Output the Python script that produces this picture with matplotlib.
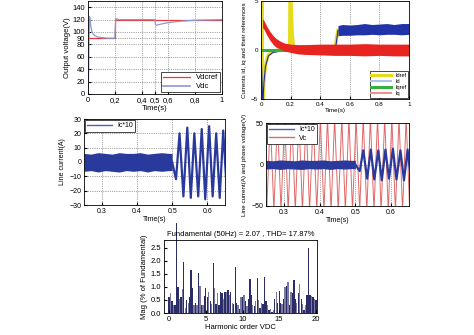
import numpy as np
import matplotlib
matplotlib.use('Agg')
import matplotlib.pyplot as plt
from matplotlib.lines import Line2D

# ---- data ----
# top left: output voltage
t_vdcref = [0, 0.2, 0.2, 1.0]
vdcref = [90, 90, 120, 120]
t_vdc = [0, 0.004, 0.008, 0.012, 0.016, 0.022, 0.03, 0.045, 0.07, 0.1, 0.15, 0.2,
         0.203, 0.208, 0.215, 0.23, 0.3, 0.5, 0.503, 0.51, 0.53, 0.56, 0.6, 0.65,
         0.7, 0.8, 0.9, 1.0]
vdc = [0, 30, 95, 125, 118, 108, 100, 95, 92, 91, 90, 90,
       105, 122, 121, 120, 120, 120, 112, 111, 112, 113.5, 115, 116.5,
       117.5, 119, 119.5, 120]

# top right: currents id, iq and references
t_idref = [0.002, 0.006, 0.01, 0.014, 0.019, 0.025, 0.035, 0.05, 0.08, 0.12, 0.193, 0.197,
           0.205, 0.212, 0.22, 0.25, 0.5, 0.51, 0.52]
idref = [-8, 8, -8, -5.2, -3.4, -2.2, -1.2, -0.5, -0.15, 0, 0, 8,
         4, 1.5, 0.3, 0, 0, 1.2, 2]
t_id = [0, 0.011, 0.014, 0.02, 0.03, 0.05, 0.08, 0.12, 0.2, 0.5, 0.505, 0.52]
id_ = [0, -5, -5, -3.3, -1.7, -0.6, -0.25, -0.15, -0.1, 0, 0.3, 2]
t_id_band = [0.52, 0.55, 0.6, 0.65, 0.7, 0.75, 0.8, 0.85, 0.9, 0.95, 1.0]
id_hi = [2.5, 2.6, 2.55, 2.6, 2.7, 2.6, 2.65, 2.7, 2.6, 2.7, 2.7]
id_lo = [1.45, 1.5, 1.5, 1.55, 1.55, 1.6, 1.55, 1.6, 1.6, 1.55, 1.6]
t_iqref = [0.003, 1.0]
iqref = [0, 0]
t_iq = [0.01, 0.02, 0.04, 0.06, 0.08, 0.1, 0.13, 0.16, 0.2, 0.25, 0.3, 0.4,
        0.5, 0.6, 0.7, 0.8, 0.9, 1.0]
iq_hi = [3.2, 3.0, 2.4, 1.9, 1.5, 1.2, 0.9, 0.7, 0.6, 0.55, 0.55, 0.6,
         0.6, 0.6, 0.65, 0.6, 0.6, 0.6]
iq_lo = [2.3, 2.1, 1.5, 1.0, 0.6, 0.3, 0.1, -0.1, -0.25, -0.4, -0.45, -0.5,
         -0.55, -0.55, -0.6, -0.55, -0.6, -0.6]

# middle left: line current Ic*10
t_noise = [0.25, 0.27, 0.29, 0.31, 0.33, 0.35, 0.37, 0.39, 0.41, 0.43, 0.45, 0.47, 0.49, 0.5]
ic_hi = [6, 5.5, 6.5, 6, 5.5, 6.5, 6, 6, 6.5, 5.5, 6, 6.5, 6, 6]
ic_lo = [-6.5, -6, -7, -6, -6.5, -7, -6, -6.5, -6, -7, -6, -6.5, -6, -6]
t_ic = [0.5, 0.511, 0.521, 0.532, 0.543, 0.553, 0.563, 0.574, 0.584, 0.594,
        0.605, 0.615, 0.625, 0.635, 0.645, 0.655]
ic = [0, -12, 20, -24, 24, -25, 20, -24, 23, -26, 25, -24, 20, -25, 22, -20]

# middle right: Ic*10 and phase voltage Vc
ic2_hi = [5, 4.5, 5.5, 5, 4.5, 5.5, 5, 5, 5.5, 4.5, 5, 5.5, 5, 5]
ic2_lo = [-5.5, -5, -6, -5, -5.5, -6, -5, -5.5, -5, -6, -5, -5.5, -5, -5]
t_ic2 = [0.5, 0.512, 0.522, 0.533, 0.543, 0.553, 0.564, 0.574, 0.584, 0.594,
         0.605, 0.615, 0.626, 0.636, 0.646, 0.655]
ic2 = [0, -8, 17, -17, 18, -18, 17, -19, 18, -17, 19, -18, 17, -19, 18, -16]
t_vc = [0.25, 0.252, 0.262, 0.272, 0.282, 0.292, 0.302, 0.312, 0.322, 0.332, 0.342,
        0.352, 0.362, 0.372, 0.382, 0.392, 0.402, 0.412, 0.422, 0.432, 0.442,
        0.452, 0.462, 0.472, 0.482, 0.492, 0.502, 0.512, 0.522, 0.532, 0.542,
        0.552, 0.562, 0.572, 0.582, 0.592, 0.602, 0.612, 0.622, 0.632, 0.642,
        0.652]
vc = [-45, -56, 56, -56, 56, -56, 56, -56, 56, -56, 56,
      -56, 56, -56, 56, -56, 56, -56, 56, -56, 56,
      -56, 56, -56, 56, -56, 56, -56, 56, -56, 56,
      -56, 56, -56, 56, -56, 56, -56, 56, -56, 56,
      -56]

# bottom: harmonic spectrum of VDC (0 to 20, step 0.2)
harm = [round(0.2 * i, 1) for i in range(101)]
mag = [0.62, 0.78, 0.45, 0.3, 0.3, 3.45,
       1.0, 0.55, 0.6, 0.92, 1.95,
       0.2, 0.5, 0.4, 0.6, 1.65,
       0.95, 0.3, 0.38, 0.3, 1.55,
       1.05, 0.3, 0.3, 0.65, 0.95,
       0.6, 0.8, 0.45, 0.35, 1.93,
       0.95, 0.35, 0.75, 0.3, 0.8,
       0.75, 0.55, 0.8, 0.82, 0.9,
       0.7, 0.8, 0.4, 0.35, 1.75,
       0.4, 0.3, 0.15, 0.62, 0.62,
       0.68, 0.45, 0.25, 0.55, 1.3,
       0.7, 0.3, 0.25, 0.45, 1.33,
       0.5, 0.2, 0.4, 0.35, 1.4,
       0.45, 0.3, 0.1, 0.15, 0.05,
       0.1, 0.55, 0.8, 0.4, 0.85,
       0.4, 0.35, 0.55, 1.0, 1.05,
       1.2, 0.3, 0.8, 0.78, 1.25,
       0.55, 0.4, 0.75, 1.1, 0.55,
       0.35, 0.1, 0.3, 0.7, 2.5,
       0.7, 0.65, 0.6, 0.55, 0.5]

# ---- figure ----
plt.rcParams['font.family'] = ['Liberation Sans', 'DejaVu Sans']
plt.rcParams['xtick.direction'] = 'in'
plt.rcParams['ytick.direction'] = 'in'
plt.rcParams['xtick.major.size'] = 2
plt.rcParams['ytick.major.size'] = 2
plt.rcParams['axes.linewidth'] = 0.6
plt.rcParams['xtick.major.pad'] = 2
plt.rcParams['ytick.major.pad'] = 2

W, H = 474, 335
fig = plt.figure(figsize=(W / 100, H / 100), dpi=100)


def box(x0, y0, x1, y1):
    # pixel box -> figure fraction
    return [x0 / W, 1 - y1 / H, (x1 - x0) / W, (y1 - y0) / H]


def grid(ax):
    ax.grid(True, linestyle=':', color='#555555', linewidth=0.5)


def legend(ax, handles, labels, loc, fs):
    lg = ax.legend(handles, labels, loc=loc, fontsize=fs, fancybox=False,
                   edgecolor='black', framealpha=1, borderpad=0.3,
                   handlelength=3.5, labelspacing=0.2, borderaxespad=0.2)
    lg.get_frame().set_linewidth(0.5)
    lg.set_zorder(10)


# top left
ax1 = fig.add_axes(box(88, 1, 222, 94))
ax1.plot(t_vdcref, vdcref, color='#e8383c', lw=0.9)
ax1.plot(t_vdc, vdc, color='#8a9ad0', lw=0.9)
ax1.set_xlim(0, 1)
ax1.set_ylim(0, 150)
ax1.set_xticks([0, 0.2, 0.4, 0.5, 0.6, 0.8, 1])
ax1.set_xticklabels(['0', '0,2', '0,4', '0,5', '0,6', '0,8', '1'])
ax1.set_yticks([0, 20, 40, 60, 80, 90, 100, 120, 140])
ax1.tick_params(labelsize=5.5)
ax1.set_xlabel('Time(s)', fontsize=5.5, labelpad=1)
ax1.set_ylabel('Output voltage(V)', fontsize=5.5, labelpad=1)
grid(ax1)
legend(ax1, [Line2D([], [], color='#e8383c', lw=0.9), Line2D([], [], color='#8a9ad0', lw=1.2)],
       ['Vdcref', 'Vdc'], 'lower right', 5.5)

# top right
ax2 = fig.add_axes(box(261, 1, 409, 99))
ax2.plot(t_idref, idref, color='#e6dc1e', lw=2.4, zorder=2)
ax2.plot(t_id, id_, color='#1f2f9c', lw=0.8, zorder=2.1)
ax2.fill_between(t_id_band, id_lo, id_hi, color='#2233a8', lw=0, zorder=2.2)
ax2.plot(t_iqref, iqref, color='#36b040', lw=2.2, zorder=2.3)
ax2.fill_between(t_iq, iq_lo, iq_hi, color='#e82420', lw=0, zorder=2.4)
ax2.set_xlim(0, 1)
ax2.set_ylim(-5, 5)
ax2.set_xticks([0, 0.2, 0.4, 0.6, 0.8, 1])
ax2.set_xticklabels(['0', '0.2', '0.4', '0.6', '0.8', '1'])
ax2.set_yticks([-5, 0, 5])
ax2.tick_params(labelsize=4.5)
ax2.set_xlabel('Time(s)', fontsize=4.5, labelpad=1)
ax2.set_ylabel('Currents id, iq and their references', fontsize=4.5, labelpad=3)
grid(ax2)
legend(ax2, [Line2D([], [], color='#e6dc1e', lw=2.2), Line2D([], [], color='#a8c4ec', lw=1.5),
             Line2D([], [], color='#36b040', lw=2.2), Line2D([], [], color='#f09090', lw=1.5)],
       ['Idref', 'Id', 'Iqref', 'Iq'], 'lower right', 4)

# middle left
ax3 = fig.add_axes(box(84, 119, 225, 205))
ax3.fill_between(t_noise, ic_lo, ic_hi, color='#2a3a9c', lw=0, zorder=2)
ax3.plot(t_ic, ic, color='#2a3a9c', lw=1.6, zorder=2)
ax3.set_xlim(0.25, 0.65)
ax3.set_ylim(-30, 30)
ax3.set_xticks([0.3, 0.4, 0.5, 0.6])
ax3.set_yticks([-30, -20, -10, 0, 10, 20, 30])
ax3.tick_params(labelsize=5)
ax3.set_xlabel('Time(s)', fontsize=5, labelpad=1)
ax3.set_ylabel('Line current(A)', fontsize=5, labelpad=2)
grid(ax3)
legend(ax3, [Line2D([], [], color='#5060b0', lw=1)], ['Ic*10'], 'upper left', 5)

# middle right
ax4 = fig.add_axes(box(266, 123, 409, 206))
ax4.plot(t_vc, vc, color='#e06868', lw=0.7, zorder=2)
ax4.fill_between(t_noise, ic2_lo, ic2_hi, color='#2a3a9c', lw=0, zorder=2.1)
ax4.plot(t_ic2, ic2, color='#2a3a9c', lw=1.6, zorder=2.1)
ax4.set_xlim(0.25, 0.65)
ax4.set_ylim(-50, 50)
ax4.set_xticks([0.3, 0.4, 0.5, 0.6])
ax4.set_yticks([-50, 0, 50])
ax4.tick_params(labelsize=5)
ax4.set_xlabel('Time(s)', fontsize=5, labelpad=1)
ax4.set_ylabel('Line current(A) and phase voltage(V)', fontsize=4.5, labelpad=3)
grid(ax4)
legend(ax4, [Line2D([], [], color='#5060b0', lw=1), Line2D([], [], color='#e06868', lw=1)],
       ['Ic*10', 'Vc'], 'upper left', 5)

# bottom spectrum
ax5 = fig.add_axes(box(164, 240, 317, 313))
cols = []
for i in range(len(harm)):
    if i % 5 == 0 or i % 2 == 0:
        cols.append('#2c2c66')
    else:
        cols.append('#7a7aa0')
bars = ax5.bar(harm, mag, width=0.18, color=cols, lw=0)
bars[5].set_clip_on(False)
ax5.set_xlim(-0.7, 20.15)
ax5.set_ylim(0, 2.8)
ax5.set_xticks([0, 5, 10, 15, 20])
ax5.set_yticks([0, 0.5, 1, 1.5, 2, 2.5])
ax5.tick_params(labelsize=5.5)
ax5.set_xlabel('Harmonic order VDC', fontsize=5.5, labelpad=1)
ax5.set_ylabel('Mag (% of Fundamental)', fontsize=5.5, labelpad=2)
ax5.set_title('Fundamental (50Hz) = 2.07 , THD= 17.87%', fontsize=5.5, pad=3)

fig.savefig('out.png', dpi=100)
